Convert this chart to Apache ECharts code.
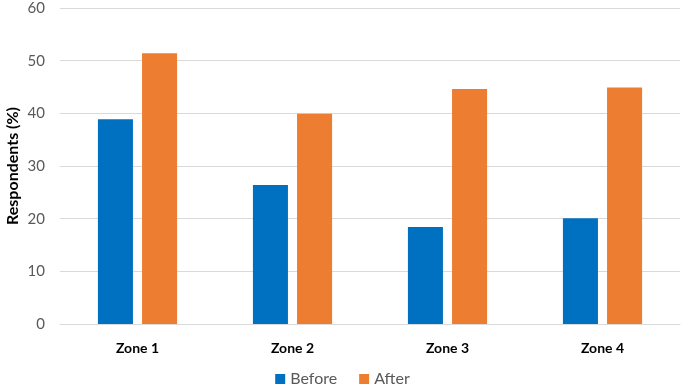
<!DOCTYPE html>
<html>
<head>
<meta charset="utf-8">
<script src="https://cdn.jsdelivr.net/npm/echarts@6/dist/echarts.min.js"></script>
<style>
  html, body { margin: 0; padding: 0; background: #fff; }
  #chart { width: 685px; height: 392px; }
</style>
</head>
<body>
<div id="chart"></div>
<script>
const zones = ['Zone 1', 'Zone 2', 'Zone 3', 'Zone 4'];
const before = [38.9, 26.4, 18.4, 20.1];
const after = [51.4, 39.9, 44.6, 44.9];
const yTicks = [0, 10, 20, 30, 40, 50, 60];

const font = 'Lato, "Open Sans", sans-serif';

const myChart = echarts.init(document.getElementById('chart'));
myChart.setOption({
  animation: false,
  textStyle: { fontFamily: font },
  grid: { left: 60, right: 5, top: 8, bottom: 68, containLabel: false, outerBoundsMode: 'none' },
  legend: {
    bottom: 0,
    left: 'center',
    itemWidth: 10,
    itemHeight: 10,
    itemGap: 22,
    icon: 'rect',
    textStyle: { fontSize: 16, color: '#595959', fontFamily: font },
    data: ['Before', 'After']
  },
  xAxis: {
    type: 'category',
    data: zones,
    axisTick: { show: false },
    axisLine: { lineStyle: { color: '#d9d9d9' } },
    axisLabel: { fontSize: 14, fontWeight: 'bold', color: '#000', margin: 17 }
  },
  yAxis: {
    type: 'value',
    min: yTicks[0],
    max: yTicks[yTicks.length - 1],
    interval: 10,
    name: 'Respondents (%)',
    nameLocation: 'middle',
    nameGap: 39,
    nameMoveOverlap: false,
    nameTextStyle: { fontSize: 16, fontWeight: 'bold', color: '#000' },
    axisLabel: { fontSize: 15, color: '#595959', margin: 15 },
    splitLine: { lineStyle: { color: '#d9d9d9' } }
  },
  series: [
    {
      name: 'Before',
      type: 'bar',
      data: before,
      barWidth: '22.6%',
      barGap: '26%',
      itemStyle: { color: '#0070C0' }
    },
    {
      name: 'After',
      type: 'bar',
      data: after,
      barWidth: '22.6%',
      itemStyle: { color: '#ED7D31' }
    }
  ]
});

window.addEventListener('resize', function() {
  myChart.resize();
});
</script>
</body>
</html>
